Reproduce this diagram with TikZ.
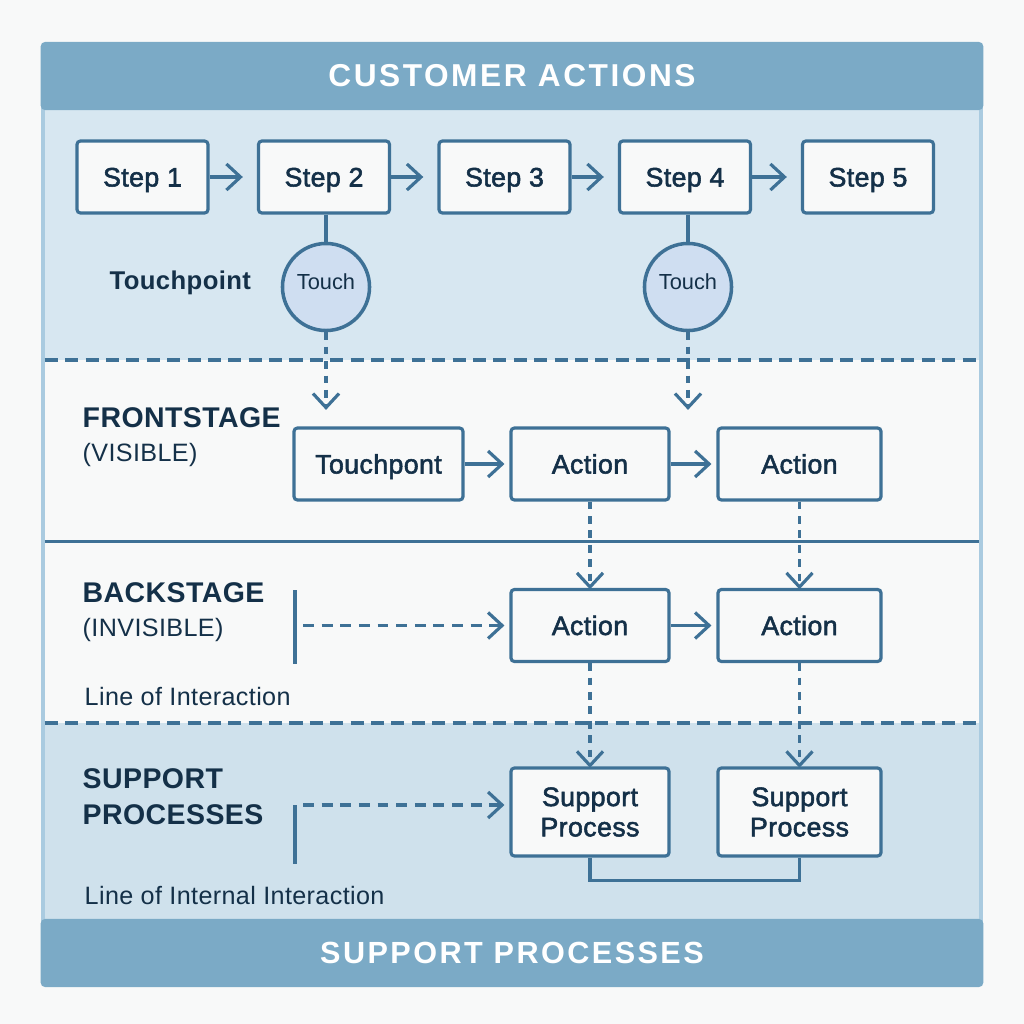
\documentclass[tikz,border=0pt]{standalone}
\usepackage{fontspec}
\setmainfont{Liberation Sans}
\newfontfamily\medfont[FakeBold=2,LetterSpace=1.5]{Liberation Sans}
\newfontfamily\labfont[LetterSpace=1.5]{Liberation Sans}
\newfontfamily\headfont[LetterSpace=8]{Liberation Sans}
\usetikzlibrary{arrows.meta,positioning}
\definecolor{heavyline}{RGB}{62,113,150}
\definecolor{headblue}{RGB}{123,170,198}
\definecolor{sideblue}{RGB}{170,203,224}
\definecolor{topband}{RGB}{215,231,241}
\definecolor{lowband}{RGB}{207,225,236}
\definecolor{paper}{RGB}{248,249,249}
\definecolor{inktext}{RGB}{20,48,72}
\definecolor{touchfill}{RGB}{207,222,241}

\begin{document}
\begin{tikzpicture}[x=0.01cm,y=-0.01cm,
    box/.style={draw=heavyline,fill=paper,line width=0.9pt,rounded corners=1pt,align=center,text=inktext,inner sep=0pt,font=\fontsize{7.6pt}{8.6pt}\medfont},
    onerow/.style={box,text height=5.4pt,text depth=0pt,minimum height=0.72cm},
    stepbox/.style={onerow,minimum width=1.31cm},
    actbox/.style={onerow,minimum width=1.58cm},
    supbox/.style={box,minimum height=0.88cm},
    touch/.style={circle,draw=heavyline,fill=touchfill,line width=1pt,minimum size=0.87cm,inner sep=0pt,text=inktext,text height=4.4pt,text depth=2.7pt,font=\fontsize{6.2pt}{7pt}\selectfont},
    band/.style={minimum width=9.42cm,inner sep=0pt,outer sep=0pt},
    head/.style={band,fill=headblue,rounded corners=1.2pt,minimum height=0.68cm,text=white,font=\fontsize{9pt}{11pt}\headfont\bfseries},
    lab/.style={anchor=west,inner sep=0pt,text=inktext,font=\fontsize{8.1pt}{10.2pt}\labfont\bfseries,align=left},
    sublab/.style={anchor=west,inner sep=0pt,text=inktext,font=\fontsize{7.15pt}{8pt}\labfont},
    flow/.style={-{Straight Barb[length=4pt,width=7.4pt,line width=0.9pt]},heavyline,line width=0.9pt,shorten >=1.4pt},
    stepflow/.style={flow,shorten >=4pt},
    dashflow/.style={flow,shorten >=-0.4pt,dash pattern=on 2.2pt off 1.9pt},
    hdashflow/.style={flow,dash pattern=on 3.1pt off 2.2pt},
    link/.style={heavyline,line width=0.9pt},
    divider/.style={heavyline,line width=0.9pt}]

    \fill[paper] (0,0) rectangle (1024,1024);
    \useasboundingbox (0,0) rectangle (1024,1024);

    % bands
    \node[band,fill=sideblue,minimum height=8.4cm] (panel) at (512,515) {};
    \node[band,fill=topband,minimum width=9.34cm,minimum height=2.5cm] (custband) at (512,235) {};
    \node[band,fill=paper,minimum width=9.34cm,minimum height=3.63cm] (midband) at (512,541.5) {};
    \node[band,fill=lowband,minimum width=9.34cm,minimum height=1.96cm] (supband) at (512,821) {};
    \node[head] (tophead) at (512,76) {CUSTOMER ACTIONS};
    \node[head,font=\fontsize{8.7pt}{11pt}\headfont\bfseries] (bothead) at (512,953) {SUPPORT PROCESSES};

    \draw[divider,dash pattern=on 3.7pt off 2.1pt] (custband.south west) -- (custband.south east);
    \draw[divider,dash pattern=on 3.7pt off 2.1pt] (supband.north west) -- (supband.north east);
    \draw[divider] (midband.west) -- (midband.east);

    % customer steps
    \node[stepbox] (step1) at (142.5,177) {Step 1};
    \node[stepbox] (step2) at (324,177) {Step 2};
    \node[stepbox] (step3) at (504.5,177) {Step 3};
    \node[stepbox] (step4) at (685,177) {Step 4};
    \node[stepbox] (step5) at (868,177) {Step 5};

    \draw[stepflow] (step1) -- (step2);
    \draw[stepflow] (step2) -- (step3);
    \draw[stepflow] (step3) -- (step4);
    \draw[stepflow] (step4) -- (step5);

    \node[touch] (touch1) at (326,287) {Touch};
    \node[touch] (touch2) at (688,287) {Touch};
    \draw[link] (step2.south -| touch1) -- (touch1);
    \draw[link] (step4.south -| touch2) -- (touch2);
    \node[lab,font=\fontsize{7.3pt}{9pt}\labfont\bfseries] (touchlab) at (109,283) {Touchpoint};

    % frontstage
    \node[lab] (frontlab) at (82,418) {FRONTSTAGE};
    \node[sublab] (vislab) at (82,455) {(VISIBLE)};
    \node[onerow,minimum width=1.69cm] (tpbox) at (378.5,464) {Touchpont};
    \node[actbox] (front1) at (590,464) {Action};
    \node[actbox,minimum width=1.63cm] (front2) at (799.5,464) {Action};

    \coordinate (drop1) at (326,408.5);
    \coordinate (drop2) at (688,408.5);
    \draw[dashflow] (touch1) -- (drop1);
    \draw[dashflow] (touch2) -- (drop2);
    \draw[flow] (tpbox) -- (front1);
    \draw[flow] (front1) -- (front2);

    % backstage
    \node[lab] (backlab) at (82,593) {BACKSTAGE};
    \node[sublab] (invlab) at (82,630) {(INVISIBLE)};
    \node[actbox] (back1) at (590,625.5) {Action};
    \node[actbox,minimum width=1.63cm] (back2) at (799.5,625.5) {Action};
    \node[sublab] (linelab) at (84,697) {Line of Interaction};

    \coordinate (tickA) at (295,590);
    \coordinate (tickB) at (295,664);
    \coordinate (backfrom) at (303,625.5);
    \draw[link] (tickA) -- (tickB);
    \draw[hdashflow] (backfrom) -- (back1);
    \draw[flow] (back1) -- (back2);
    \draw[dashflow] (front1) -- (back1);
    \draw[dashflow] (front2) -- (back2);

    % support
    \node[lab] (suplab) at (82,797) {SUPPORT\\PROCESSES};
    \node[supbox,minimum width=1.58cm] (sup1) at (590,812) {Support\\Process};
    \node[supbox,minimum width=1.63cm] (sup2) at (799.5,812) {Support\\Process};
    \node[sublab] (intlab) at (84,896) {Line of Internal Interaction};

    \coordinate (tickC) at (295,805);
    \coordinate (tickD) at (295,864);
    \coordinate (supfrom) at (303,805);
    \draw[link] (tickC) -- (tickD);
    \draw[hdashflow] (supfrom) -- (supfrom -| sup1.west);
    \draw[dashflow] (back1) -- (sup1);
    \draw[dashflow] (back2) -- (sup2);
    \draw[link] (sup1.south) -- ++(0,23) -| (sup2.south);
\end{tikzpicture}
\end{document}
